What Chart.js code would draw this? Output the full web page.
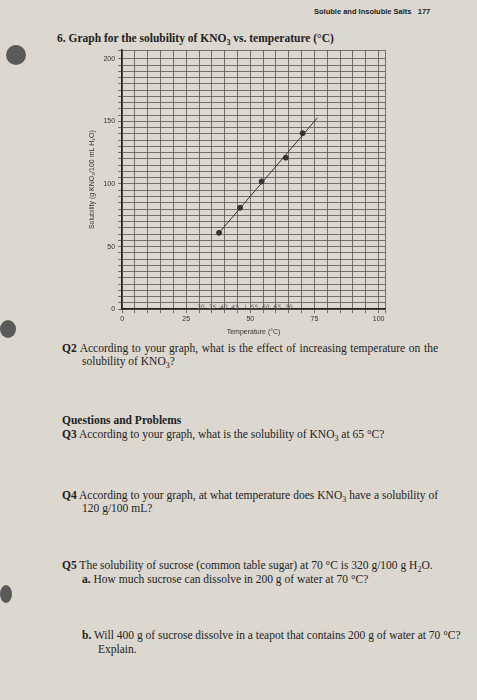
<!DOCTYPE html>
<html><head><meta charset="utf-8">
<script src="https://cdn.jsdelivr.net/npm/chart.js@4"></script>
<style>
body{margin:0;width:477px;height:700px;background:#dcd8d0;font-family:"Liberation Serif",serif;color:#222;position:relative;overflow:hidden}
.t{position:absolute;white-space:nowrap}
.q{font-size:11.5px;line-height:13px}
.hole{position:absolute;border-radius:50%;background:#5a5a5a}
#wrap{position:absolute;left:84px;top:40px;width:314px;height:300px}
</style></head><body>
<div class="t" style="left:314px;top:7px;font-size:7.5px;font-family:'Liberation Sans Narrow','Liberation Sans';font-weight:bold">Soluble and Insoluble Salts &nbsp;&nbsp;177</div>
<div class="t" style="left:57px;top:32px;font-size:11.5px;font-weight:bold">6. Graph for the solubility of KNO<sub style="font-size:8px">3</sub> vs. temperature (°C)</div>
<div class="hole" style="left:6px;top:45px;width:20px;height:20px"></div>
<div class="hole" style="left:0px;top:320px;width:16px;height:18px"></div>
<div class="hole" style="left:0px;top:585px;width:12px;height:18px"></div>
<div id="wrap"><canvas id="c"></canvas></div>
<div class="t" style="left:197px;top:303px;font-size:6px;font-style:italic;color:#555;font-family:'DejaVu Sans'">30 &nbsp;35 &nbsp;40 &nbsp;45 &nbsp;&nbsp;| &nbsp;55 &nbsp;60 &nbsp;65 &nbsp;70</div>
<div class="t q" style="left:62px;top:342px;width:376px;text-align:justify;text-align-last:justify"><b>Q2</b> According to your graph, what is the effect of increasing temperature on the</div>
<div class="t q" style="left:82px;top:355px">solubility of KNO<sub style="font-size:8px">3</sub>?</div>
<div class="t q" style="left:62px;top:414px;font-weight:bold">Questions and Problems</div>
<div class="t q" style="left:62px;top:428px"><b>Q3</b> According to your graph, what is the solubility of KNO<sub style="font-size:8px">3</sub> at 65 °C?</div>
<div class="t q" style="left:62px;top:489px;width:376px;text-align:justify;text-align-last:justify"><b>Q4</b> According to your graph, at what temperature does KNO<sub style="font-size:8px">3</sub> have a solubility of</div>
<div class="t q" style="left:82px;top:502px">120 g/100 mL?</div>
<div class="t q" style="left:62px;top:559px"><b>Q5</b> The solubility of sucrose (common table sugar) at 70 °C is 320 g/100 g H<sub style="font-size:8px">2</sub>O.</div>
<div class="t q" style="left:82px;top:573px"><b>a.</b> How much sucrose can dissolve in 200 g of water at 70 °C?</div>
<div class="t q" style="left:82px;top:629px"><b>b.</b> Will 400 g of sucrose dissolve in a teapot that contains 200 g of water at 70 °C?</div>
<div class="t q" style="left:98px;top:643px">Explain.</div>
<script>
const temps=[37.8,46,54.4,63.8,70.4];
const solubility=[61,81,102,121,140.5];
const lineTemps=[37.8,76.2];
const lineVals=[61,153];
const xTickLabels=[0,25,50,75,100];
const yTickLabels=[0,50,100,150,200];
new Chart(document.getElementById('c'),{
 type:'scatter',
 data:{datasets:[
  {data:lineTemps.map((x,i)=>({x,y:lineVals[i]})),showLine:true,borderColor:'#333',borderWidth:1,pointRadius:0},
  {data:temps.map((x,i)=>({x,y:solubility[i]})),pointRadius:2.5,backgroundColor:'#333',borderColor:'#333'}
 ]},
 options:{responsive:true,maintainAspectRatio:false,animation:false,
  layout:{padding:{right:13,top:10}},
  plugins:{legend:{display:false},tooltip:{enabled:false}},
  scales:{
   x:{type:'linear',min:0,max:102.5,
     afterBuildTicks:s=>{const t=s.ticks.filter(k=>k.value<=100);if(!t.some(k=>Math.abs(k.value-100)<0.01))t.push({value:100});t.push({value:102.5});s.ticks=t;},
     ticks:{stepSize:5,autoSkip:false,color:'#333',font:{size:7,family:'Liberation Sans'},maxRotation:0,padding:2,
       callback:v=>xTickLabels.includes(Math.round(v*10)/10)?String(Math.round(v)):''},
     grid:{color:'#555',lineWidth:0.8,tickLength:4},border:{color:'#222',width:1.5},
     title:{display:true,text:'Temperature (°C)',color:'#333',padding:{top:2},font:{size:7,family:'Liberation Sans'}}},
   y:{type:'linear',min:0,max:207,
     ticks:{stepSize:5,autoSkip:false,color:'#333',font:{size:7,family:'Liberation Sans'},
       callback:v=>yTickLabels.includes(Math.round(v))?String(Math.round(v)):''},
     grid:{color:'#555',lineWidth:0.8,tickLength:4},border:{color:'#222',width:1.5},
     title:{display:true,text:'Solubility (g KNO₃/100 mL H₂O)',color:'#333',font:{size:7,family:'Liberation Sans'}}}
  }}
});
</script></body></html>
